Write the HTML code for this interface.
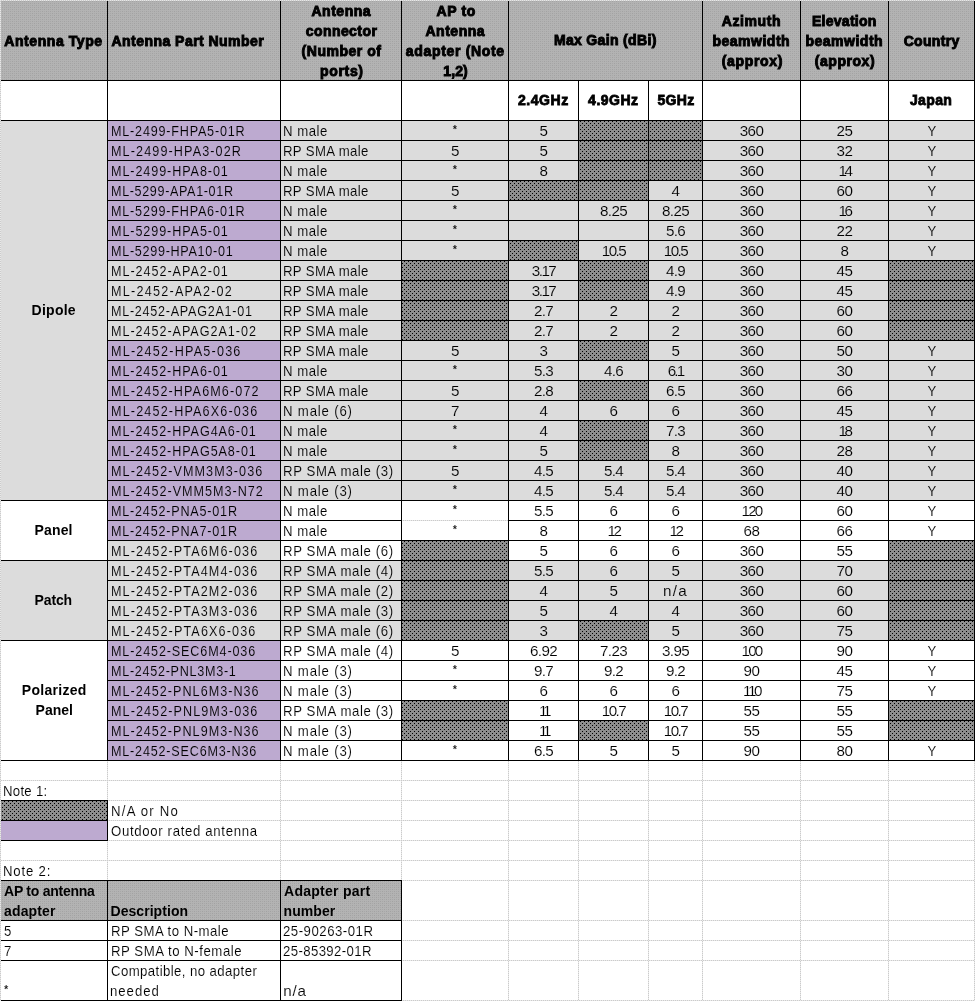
<!DOCTYPE html>
<html><head><meta charset="utf-8"><title>Antenna table</title>
<style>
html,body{margin:0;padding:0;background:#fff;}
body{width:975px;height:1001px;overflow:hidden;position:relative;font-family:"Liberation Sans",sans-serif;color:#000;}
#g{position:absolute;left:0;top:0;display:block;}
#tx{position:absolute;left:0;top:0;width:975px;height:1001px;will-change:transform;}
.t{position:absolute;display:flex;box-sizing:border-box;white-space:nowrap;overflow:visible;font-size:12.5px;line-height:20px;}
.t span{display:block;transform-origin:left center;}
.t.c span{transform-origin:center center;}
.r{font-size:14.67px;letter-spacing:0px;}
.r span{transform:scaleX(0.9);}
.n{font-size:15.2px;}
.pn{font-size:14.67px;letter-spacing:0px;}
.pn span{transform:scaleX(0.86);}
.hb{font-weight:bold;font-size:14px;letter-spacing:0.6px;-webkit-text-stroke:0.95px #000;}
.sb{font-weight:bold;font-size:14px;letter-spacing:0.2px;-webkit-text-stroke:0.8px #000;}
.gb{font-weight:bold;font-size:14px;letter-spacing:0.3px;}
.nb{font-weight:bold;font-size:14px;letter-spacing:0.2px;}
.star span{position:relative;top:-2px;font-size:11px;font-weight:bold;transform:none;}
</style></head><body>
<svg id="g" width="975" height="1001" viewBox="0 0 975 1001" shape-rendering="crispEdges">
<defs>
<pattern id="na" x="0" y="0" width="4" height="4" patternUnits="userSpaceOnUse">
<rect width="4" height="4" fill="#8e8e8e"/>
<rect x="2" y="3" width="1" height="1" fill="#000"/>
<rect x="0" y="1" width="1" height="1" fill="#000"/>
</pattern>
<pattern id="gl" x="0" y="0" width="2" height="2" patternUnits="userSpaceOnUse">
<rect width="2" height="2" fill="#e8e8e8"/>
<rect x="1" y="0" width="1" height="1" fill="#cbcbcb"/>
<rect x="0" y="1" width="1" height="1" fill="#cbcbcb"/>
</pattern>
<pattern id="hd" x="0" y="0" width="4" height="4" patternUnits="userSpaceOnUse">
<rect width="4" height="4" fill="#b3b3b3"/>
<rect x="0" y="1" width="1" height="1" fill="#a2a2a2"/>
<rect x="2" y="3" width="1" height="1" fill="#a2a2a2"/>
<rect x="2" y="1" width="1" height="1" fill="#a8a8a8"/>
<rect x="0" y="3" width="1" height="1" fill="#a8a8a8"/>
</pattern>
</defs>
<rect x="1" y="1" width="973" height="79" fill="url(#hd)"/>
<rect x="1" y="121" width="106" height="379" fill="#dcdcdc"/>
<rect x="1" y="561" width="106" height="79" fill="#dcdcdc"/>
<rect x="108" y="121" width="172" height="19" fill="#bdaad0"/>
<rect x="281" y="121" width="120" height="19" fill="#dcdcdc"/>
<rect x="402" y="121" width="106" height="19" fill="#dcdcdc"/>
<rect x="509" y="121" width="69" height="19" fill="#dcdcdc"/>
<rect x="579" y="121" width="69" height="19" fill="url(#na)"/>
<rect x="649" y="121" width="53" height="19" fill="url(#na)"/>
<rect x="703" y="121" width="97" height="19" fill="#dcdcdc"/>
<rect x="801" y="121" width="87" height="19" fill="#dcdcdc"/>
<rect x="889" y="121" width="85" height="19" fill="#dcdcdc"/>
<rect x="108" y="141" width="172" height="19" fill="#bdaad0"/>
<rect x="281" y="141" width="120" height="19" fill="#dcdcdc"/>
<rect x="402" y="141" width="106" height="19" fill="#dcdcdc"/>
<rect x="509" y="141" width="69" height="19" fill="#dcdcdc"/>
<rect x="579" y="141" width="69" height="19" fill="url(#na)"/>
<rect x="649" y="141" width="53" height="19" fill="url(#na)"/>
<rect x="703" y="141" width="97" height="19" fill="#dcdcdc"/>
<rect x="801" y="141" width="87" height="19" fill="#dcdcdc"/>
<rect x="889" y="141" width="85" height="19" fill="#dcdcdc"/>
<rect x="108" y="161" width="172" height="19" fill="#bdaad0"/>
<rect x="281" y="161" width="120" height="19" fill="#dcdcdc"/>
<rect x="402" y="161" width="106" height="19" fill="#dcdcdc"/>
<rect x="509" y="161" width="69" height="19" fill="#dcdcdc"/>
<rect x="579" y="161" width="69" height="19" fill="url(#na)"/>
<rect x="649" y="161" width="53" height="19" fill="url(#na)"/>
<rect x="703" y="161" width="97" height="19" fill="#dcdcdc"/>
<rect x="801" y="161" width="87" height="19" fill="#dcdcdc"/>
<rect x="889" y="161" width="85" height="19" fill="#dcdcdc"/>
<rect x="108" y="181" width="172" height="19" fill="#bdaad0"/>
<rect x="281" y="181" width="120" height="19" fill="#dcdcdc"/>
<rect x="402" y="181" width="106" height="19" fill="#dcdcdc"/>
<rect x="509" y="181" width="69" height="19" fill="url(#na)"/>
<rect x="579" y="181" width="69" height="19" fill="url(#na)"/>
<rect x="649" y="181" width="53" height="19" fill="#dcdcdc"/>
<rect x="703" y="181" width="97" height="19" fill="#dcdcdc"/>
<rect x="801" y="181" width="87" height="19" fill="#dcdcdc"/>
<rect x="889" y="181" width="85" height="19" fill="#dcdcdc"/>
<rect x="108" y="201" width="172" height="19" fill="#bdaad0"/>
<rect x="281" y="201" width="120" height="19" fill="#dcdcdc"/>
<rect x="402" y="201" width="106" height="19" fill="#dcdcdc"/>
<rect x="509" y="201" width="69" height="19" fill="#dcdcdc"/>
<rect x="579" y="201" width="69" height="19" fill="#dcdcdc"/>
<rect x="649" y="201" width="53" height="19" fill="#dcdcdc"/>
<rect x="703" y="201" width="97" height="19" fill="#dcdcdc"/>
<rect x="801" y="201" width="87" height="19" fill="#dcdcdc"/>
<rect x="889" y="201" width="85" height="19" fill="#dcdcdc"/>
<rect x="108" y="221" width="172" height="19" fill="#bdaad0"/>
<rect x="281" y="221" width="120" height="19" fill="#dcdcdc"/>
<rect x="402" y="221" width="106" height="19" fill="#dcdcdc"/>
<rect x="509" y="221" width="69" height="19" fill="#dcdcdc"/>
<rect x="579" y="221" width="69" height="19" fill="#dcdcdc"/>
<rect x="649" y="221" width="53" height="19" fill="#dcdcdc"/>
<rect x="703" y="221" width="97" height="19" fill="#dcdcdc"/>
<rect x="801" y="221" width="87" height="19" fill="#dcdcdc"/>
<rect x="889" y="221" width="85" height="19" fill="#dcdcdc"/>
<rect x="108" y="241" width="172" height="19" fill="#bdaad0"/>
<rect x="281" y="241" width="120" height="19" fill="#dcdcdc"/>
<rect x="402" y="241" width="106" height="19" fill="#dcdcdc"/>
<rect x="509" y="241" width="69" height="19" fill="url(#na)"/>
<rect x="579" y="241" width="69" height="19" fill="#dcdcdc"/>
<rect x="649" y="241" width="53" height="19" fill="#dcdcdc"/>
<rect x="703" y="241" width="97" height="19" fill="#dcdcdc"/>
<rect x="801" y="241" width="87" height="19" fill="#dcdcdc"/>
<rect x="889" y="241" width="85" height="19" fill="#dcdcdc"/>
<rect x="108" y="261" width="172" height="19" fill="#dcdcdc"/>
<rect x="281" y="261" width="120" height="19" fill="#dcdcdc"/>
<rect x="402" y="261" width="106" height="19" fill="url(#na)"/>
<rect x="509" y="261" width="69" height="19" fill="#dcdcdc"/>
<rect x="579" y="261" width="69" height="19" fill="url(#na)"/>
<rect x="649" y="261" width="53" height="19" fill="#dcdcdc"/>
<rect x="703" y="261" width="97" height="19" fill="#dcdcdc"/>
<rect x="801" y="261" width="87" height="19" fill="#dcdcdc"/>
<rect x="889" y="261" width="85" height="19" fill="url(#na)"/>
<rect x="108" y="281" width="172" height="19" fill="#dcdcdc"/>
<rect x="281" y="281" width="120" height="19" fill="#dcdcdc"/>
<rect x="402" y="281" width="106" height="19" fill="url(#na)"/>
<rect x="509" y="281" width="69" height="19" fill="#dcdcdc"/>
<rect x="579" y="281" width="69" height="19" fill="url(#na)"/>
<rect x="649" y="281" width="53" height="19" fill="#dcdcdc"/>
<rect x="703" y="281" width="97" height="19" fill="#dcdcdc"/>
<rect x="801" y="281" width="87" height="19" fill="#dcdcdc"/>
<rect x="889" y="281" width="85" height="19" fill="url(#na)"/>
<rect x="108" y="301" width="172" height="19" fill="#dcdcdc"/>
<rect x="281" y="301" width="120" height="19" fill="#dcdcdc"/>
<rect x="402" y="301" width="106" height="19" fill="url(#na)"/>
<rect x="509" y="301" width="69" height="19" fill="#dcdcdc"/>
<rect x="579" y="301" width="69" height="19" fill="#dcdcdc"/>
<rect x="649" y="301" width="53" height="19" fill="#dcdcdc"/>
<rect x="703" y="301" width="97" height="19" fill="#dcdcdc"/>
<rect x="801" y="301" width="87" height="19" fill="#dcdcdc"/>
<rect x="889" y="301" width="85" height="19" fill="url(#na)"/>
<rect x="108" y="321" width="172" height="19" fill="#dcdcdc"/>
<rect x="281" y="321" width="120" height="19" fill="#dcdcdc"/>
<rect x="402" y="321" width="106" height="19" fill="url(#na)"/>
<rect x="509" y="321" width="69" height="19" fill="#dcdcdc"/>
<rect x="579" y="321" width="69" height="19" fill="#dcdcdc"/>
<rect x="649" y="321" width="53" height="19" fill="#dcdcdc"/>
<rect x="703" y="321" width="97" height="19" fill="#dcdcdc"/>
<rect x="801" y="321" width="87" height="19" fill="#dcdcdc"/>
<rect x="889" y="321" width="85" height="19" fill="url(#na)"/>
<rect x="108" y="341" width="172" height="19" fill="#bdaad0"/>
<rect x="281" y="341" width="120" height="19" fill="#dcdcdc"/>
<rect x="402" y="341" width="106" height="19" fill="#dcdcdc"/>
<rect x="509" y="341" width="69" height="19" fill="#dcdcdc"/>
<rect x="579" y="341" width="69" height="19" fill="url(#na)"/>
<rect x="649" y="341" width="53" height="19" fill="#dcdcdc"/>
<rect x="703" y="341" width="97" height="19" fill="#dcdcdc"/>
<rect x="801" y="341" width="87" height="19" fill="#dcdcdc"/>
<rect x="889" y="341" width="85" height="19" fill="#dcdcdc"/>
<rect x="108" y="361" width="172" height="19" fill="#bdaad0"/>
<rect x="281" y="361" width="120" height="19" fill="#dcdcdc"/>
<rect x="402" y="361" width="106" height="19" fill="#dcdcdc"/>
<rect x="509" y="361" width="69" height="19" fill="#dcdcdc"/>
<rect x="579" y="361" width="69" height="19" fill="#dcdcdc"/>
<rect x="649" y="361" width="53" height="19" fill="#dcdcdc"/>
<rect x="703" y="361" width="97" height="19" fill="#dcdcdc"/>
<rect x="801" y="361" width="87" height="19" fill="#dcdcdc"/>
<rect x="889" y="361" width="85" height="19" fill="#dcdcdc"/>
<rect x="108" y="381" width="172" height="19" fill="#bdaad0"/>
<rect x="281" y="381" width="120" height="19" fill="#dcdcdc"/>
<rect x="402" y="381" width="106" height="19" fill="#dcdcdc"/>
<rect x="509" y="381" width="69" height="19" fill="#dcdcdc"/>
<rect x="579" y="381" width="69" height="19" fill="url(#na)"/>
<rect x="649" y="381" width="53" height="19" fill="#dcdcdc"/>
<rect x="703" y="381" width="97" height="19" fill="#dcdcdc"/>
<rect x="801" y="381" width="87" height="19" fill="#dcdcdc"/>
<rect x="889" y="381" width="85" height="19" fill="#dcdcdc"/>
<rect x="108" y="401" width="172" height="19" fill="#bdaad0"/>
<rect x="281" y="401" width="120" height="19" fill="#dcdcdc"/>
<rect x="402" y="401" width="106" height="19" fill="#dcdcdc"/>
<rect x="509" y="401" width="69" height="19" fill="#dcdcdc"/>
<rect x="579" y="401" width="69" height="19" fill="#dcdcdc"/>
<rect x="649" y="401" width="53" height="19" fill="#dcdcdc"/>
<rect x="703" y="401" width="97" height="19" fill="#dcdcdc"/>
<rect x="801" y="401" width="87" height="19" fill="#dcdcdc"/>
<rect x="889" y="401" width="85" height="19" fill="#dcdcdc"/>
<rect x="108" y="421" width="172" height="19" fill="#bdaad0"/>
<rect x="281" y="421" width="120" height="19" fill="#dcdcdc"/>
<rect x="402" y="421" width="106" height="19" fill="#dcdcdc"/>
<rect x="509" y="421" width="69" height="19" fill="#dcdcdc"/>
<rect x="579" y="421" width="69" height="19" fill="url(#na)"/>
<rect x="649" y="421" width="53" height="19" fill="#dcdcdc"/>
<rect x="703" y="421" width="97" height="19" fill="#dcdcdc"/>
<rect x="801" y="421" width="87" height="19" fill="#dcdcdc"/>
<rect x="889" y="421" width="85" height="19" fill="#dcdcdc"/>
<rect x="108" y="441" width="172" height="19" fill="#bdaad0"/>
<rect x="281" y="441" width="120" height="19" fill="#dcdcdc"/>
<rect x="402" y="441" width="106" height="19" fill="#dcdcdc"/>
<rect x="509" y="441" width="69" height="19" fill="#dcdcdc"/>
<rect x="579" y="441" width="69" height="19" fill="url(#na)"/>
<rect x="649" y="441" width="53" height="19" fill="#dcdcdc"/>
<rect x="703" y="441" width="97" height="19" fill="#dcdcdc"/>
<rect x="801" y="441" width="87" height="19" fill="#dcdcdc"/>
<rect x="889" y="441" width="85" height="19" fill="#dcdcdc"/>
<rect x="108" y="461" width="172" height="19" fill="#bdaad0"/>
<rect x="281" y="461" width="120" height="19" fill="#dcdcdc"/>
<rect x="402" y="461" width="106" height="19" fill="#dcdcdc"/>
<rect x="509" y="461" width="69" height="19" fill="#dcdcdc"/>
<rect x="579" y="461" width="69" height="19" fill="#dcdcdc"/>
<rect x="649" y="461" width="53" height="19" fill="#dcdcdc"/>
<rect x="703" y="461" width="97" height="19" fill="#dcdcdc"/>
<rect x="801" y="461" width="87" height="19" fill="#dcdcdc"/>
<rect x="889" y="461" width="85" height="19" fill="#dcdcdc"/>
<rect x="108" y="481" width="172" height="19" fill="#bdaad0"/>
<rect x="281" y="481" width="120" height="19" fill="#dcdcdc"/>
<rect x="402" y="481" width="106" height="19" fill="#dcdcdc"/>
<rect x="509" y="481" width="69" height="19" fill="#dcdcdc"/>
<rect x="579" y="481" width="69" height="19" fill="#dcdcdc"/>
<rect x="649" y="481" width="53" height="19" fill="#dcdcdc"/>
<rect x="703" y="481" width="97" height="19" fill="#dcdcdc"/>
<rect x="801" y="481" width="87" height="19" fill="#dcdcdc"/>
<rect x="889" y="481" width="85" height="19" fill="#dcdcdc"/>
<rect x="108" y="501" width="172" height="19" fill="#bdaad0"/>
<rect x="108" y="521" width="172" height="19" fill="#bdaad0"/>
<rect x="108" y="541" width="172" height="19" fill="#dcdcdc"/>
<rect x="402" y="541" width="106" height="19" fill="url(#na)"/>
<rect x="889" y="541" width="85" height="19" fill="url(#na)"/>
<rect x="108" y="561" width="172" height="19" fill="#dcdcdc"/>
<rect x="281" y="561" width="120" height="19" fill="#dcdcdc"/>
<rect x="402" y="561" width="106" height="19" fill="url(#na)"/>
<rect x="509" y="561" width="69" height="19" fill="#dcdcdc"/>
<rect x="579" y="561" width="69" height="19" fill="#dcdcdc"/>
<rect x="649" y="561" width="53" height="19" fill="#dcdcdc"/>
<rect x="703" y="561" width="97" height="19" fill="#dcdcdc"/>
<rect x="801" y="561" width="87" height="19" fill="#dcdcdc"/>
<rect x="889" y="561" width="85" height="19" fill="url(#na)"/>
<rect x="108" y="581" width="172" height="19" fill="#dcdcdc"/>
<rect x="281" y="581" width="120" height="19" fill="#dcdcdc"/>
<rect x="402" y="581" width="106" height="19" fill="url(#na)"/>
<rect x="509" y="581" width="69" height="19" fill="#dcdcdc"/>
<rect x="579" y="581" width="69" height="19" fill="#dcdcdc"/>
<rect x="649" y="581" width="53" height="19" fill="#dcdcdc"/>
<rect x="703" y="581" width="97" height="19" fill="#dcdcdc"/>
<rect x="801" y="581" width="87" height="19" fill="#dcdcdc"/>
<rect x="889" y="581" width="85" height="19" fill="url(#na)"/>
<rect x="108" y="601" width="172" height="19" fill="#dcdcdc"/>
<rect x="281" y="601" width="120" height="19" fill="#dcdcdc"/>
<rect x="402" y="601" width="106" height="19" fill="url(#na)"/>
<rect x="509" y="601" width="69" height="19" fill="#dcdcdc"/>
<rect x="579" y="601" width="69" height="19" fill="#dcdcdc"/>
<rect x="649" y="601" width="53" height="19" fill="#dcdcdc"/>
<rect x="703" y="601" width="97" height="19" fill="#dcdcdc"/>
<rect x="801" y="601" width="87" height="19" fill="#dcdcdc"/>
<rect x="889" y="601" width="85" height="19" fill="url(#na)"/>
<rect x="108" y="621" width="172" height="19" fill="#dcdcdc"/>
<rect x="281" y="621" width="120" height="19" fill="#dcdcdc"/>
<rect x="402" y="621" width="106" height="19" fill="url(#na)"/>
<rect x="509" y="621" width="69" height="19" fill="#dcdcdc"/>
<rect x="579" y="621" width="69" height="19" fill="url(#na)"/>
<rect x="649" y="621" width="53" height="19" fill="#dcdcdc"/>
<rect x="703" y="621" width="97" height="19" fill="#dcdcdc"/>
<rect x="801" y="621" width="87" height="19" fill="#dcdcdc"/>
<rect x="889" y="621" width="85" height="19" fill="url(#na)"/>
<rect x="108" y="641" width="172" height="19" fill="#bdaad0"/>
<rect x="108" y="661" width="172" height="19" fill="#bdaad0"/>
<rect x="108" y="681" width="172" height="19" fill="#bdaad0"/>
<rect x="108" y="701" width="172" height="19" fill="#bdaad0"/>
<rect x="402" y="701" width="106" height="19" fill="url(#na)"/>
<rect x="889" y="701" width="85" height="19" fill="url(#na)"/>
<rect x="108" y="721" width="172" height="19" fill="#bdaad0"/>
<rect x="402" y="721" width="106" height="19" fill="url(#na)"/>
<rect x="579" y="721" width="69" height="19" fill="url(#na)"/>
<rect x="889" y="721" width="85" height="19" fill="url(#na)"/>
<rect x="108" y="741" width="172" height="19" fill="#bdaad0"/>
<rect x="1" y="801" width="106" height="19" fill="url(#na)"/>
<rect x="1" y="821" width="106" height="19" fill="#bdaad0"/>
<rect x="1" y="881" width="400" height="39" fill="url(#hd)"/>
<rect x="0" y="0" width="1" height="1001" fill="url(#gl)"/>
<rect x="0" y="0" width="975" height="1" fill="url(#gl)"/>
<rect x="107" y="761" width="1" height="240" fill="url(#gl)"/>
<rect x="280" y="761" width="1" height="240" fill="url(#gl)"/>
<rect x="401" y="761" width="1" height="240" fill="url(#gl)"/>
<rect x="508" y="761" width="1" height="240" fill="url(#gl)"/>
<rect x="578" y="761" width="1" height="240" fill="url(#gl)"/>
<rect x="648" y="761" width="1" height="240" fill="url(#gl)"/>
<rect x="702" y="761" width="1" height="240" fill="url(#gl)"/>
<rect x="800" y="761" width="1" height="240" fill="url(#gl)"/>
<rect x="888" y="761" width="1" height="240" fill="url(#gl)"/>
<rect x="974" y="761" width="1" height="240" fill="url(#gl)"/>
<rect x="0" y="780" width="975" height="1" fill="url(#gl)"/>
<rect x="0" y="800" width="975" height="1" fill="url(#gl)"/>
<rect x="0" y="820" width="975" height="1" fill="url(#gl)"/>
<rect x="0" y="840" width="975" height="1" fill="url(#gl)"/>
<rect x="0" y="860" width="975" height="1" fill="url(#gl)"/>
<rect x="0" y="880" width="975" height="1" fill="url(#gl)"/>
<rect x="0" y="920" width="975" height="1" fill="url(#gl)"/>
<rect x="0" y="940" width="975" height="1" fill="url(#gl)"/>
<rect x="0" y="960" width="975" height="1" fill="url(#gl)"/>
<rect x="0" y="1000" width="975" height="1" fill="url(#gl)"/>
<rect x="107" y="1" width="1" height="760" fill="#000000"/>
<rect x="280" y="1" width="1" height="760" fill="#000000"/>
<rect x="401" y="1" width="1" height="760" fill="#000000"/>
<rect x="508" y="1" width="1" height="760" fill="#000000"/>
<rect x="578" y="80" width="1" height="681" fill="#000000"/>
<rect x="648" y="80" width="1" height="681" fill="#000000"/>
<rect x="702" y="1" width="1" height="760" fill="#000000"/>
<rect x="800" y="1" width="1" height="760" fill="#000000"/>
<rect x="888" y="1" width="1" height="760" fill="#000000"/>
<rect x="974" y="1" width="1" height="760" fill="#000000"/>
<rect x="1" y="80" width="974" height="1" fill="#000000"/>
<rect x="1" y="120" width="974" height="1" fill="#000000"/>
<rect x="107" y="140" width="868" height="1" fill="#000000"/>
<rect x="107" y="160" width="868" height="1" fill="#000000"/>
<rect x="107" y="180" width="868" height="1" fill="#000000"/>
<rect x="107" y="200" width="868" height="1" fill="#000000"/>
<rect x="107" y="220" width="868" height="1" fill="#000000"/>
<rect x="107" y="240" width="868" height="1" fill="#000000"/>
<rect x="107" y="260" width="868" height="1" fill="#000000"/>
<rect x="107" y="280" width="868" height="1" fill="#000000"/>
<rect x="107" y="300" width="868" height="1" fill="#000000"/>
<rect x="107" y="320" width="868" height="1" fill="#000000"/>
<rect x="107" y="340" width="868" height="1" fill="#000000"/>
<rect x="107" y="360" width="868" height="1" fill="#000000"/>
<rect x="107" y="380" width="868" height="1" fill="#000000"/>
<rect x="107" y="400" width="868" height="1" fill="#000000"/>
<rect x="107" y="420" width="868" height="1" fill="#000000"/>
<rect x="107" y="440" width="868" height="1" fill="#000000"/>
<rect x="107" y="460" width="868" height="1" fill="#000000"/>
<rect x="107" y="480" width="868" height="1" fill="#000000"/>
<rect x="107" y="500" width="868" height="1" fill="#000000"/>
<rect x="107" y="520" width="295" height="1" fill="#000000"/>
<rect x="402" y="520" width="106" height="1" fill="url(#gl)"/>
<rect x="508" y="520" width="467" height="1" fill="#000000"/>
<rect x="107" y="540" width="868" height="1" fill="#000000"/>
<rect x="107" y="560" width="868" height="1" fill="#000000"/>
<rect x="107" y="580" width="868" height="1" fill="#000000"/>
<rect x="107" y="600" width="868" height="1" fill="#000000"/>
<rect x="107" y="620" width="868" height="1" fill="#000000"/>
<rect x="107" y="640" width="868" height="1" fill="#000000"/>
<rect x="107" y="660" width="868" height="1" fill="#000000"/>
<rect x="107" y="680" width="868" height="1" fill="#000000"/>
<rect x="107" y="700" width="868" height="1" fill="#000000"/>
<rect x="107" y="720" width="868" height="1" fill="#000000"/>
<rect x="107" y="740" width="868" height="1" fill="#000000"/>
<rect x="107" y="760" width="868" height="1" fill="#000000"/>
<rect x="1" y="500" width="974" height="1" fill="#000000"/>
<rect x="1" y="560" width="974" height="1" fill="#000000"/>
<rect x="1" y="640" width="974" height="1" fill="#000000"/>
<rect x="1" y="760" width="974" height="1" fill="#000000"/>
<rect x="1" y="800" width="107" height="1" fill="#000000"/>
<rect x="1" y="820" width="107" height="1" fill="#000000"/>
<rect x="1" y="840" width="107" height="1" fill="#000000"/>
<rect x="107" y="800" width="1" height="41" fill="#000000"/>
<rect x="1" y="880" width="401" height="1" fill="#000000"/>
<rect x="1" y="920" width="401" height="1" fill="#000000"/>
<rect x="1" y="940" width="401" height="1" fill="#000000"/>
<rect x="1" y="960" width="401" height="1" fill="#000000"/>
<rect x="1" y="1000" width="401" height="1" fill="#000000"/>
<rect x="107" y="880" width="1" height="121" fill="#000000"/>
<rect x="280" y="880" width="1" height="121" fill="#000000"/>
<rect x="401" y="880" width="1" height="121" fill="#000000"/>
</svg>
<div id="tx">
<div class="t hb" style="left:4.29px;top:31px;width:103.0px;height:20px;justify-content:flex-start;align-items:center;text-align:left;letter-spacing:0.574px;"><span>Antenna Type</span></div>
<div class="t hb" style="left:111.51px;top:31px;width:169.0px;height:20px;justify-content:flex-start;align-items:center;text-align:left;letter-spacing:0.462px;"><span>Antenna Part Number</span></div>
<div class="t hb c" style="left:281.32px;top:1px;width:120.0px;height:20px;justify-content:center;align-items:center;text-align:center;letter-spacing:0.521px;"><span>Antenna</span></div>
<div class="t hb c" style="left:281.51px;top:21px;width:120.0px;height:20px;justify-content:center;align-items:center;text-align:center;letter-spacing:0.433px;"><span>connector</span></div>
<div class="t hb c" style="left:281.52px;top:41px;width:120.0px;height:20px;justify-content:center;align-items:center;text-align:center;letter-spacing:0.521px;"><span>(Number of</span></div>
<div class="t hb c" style="left:281.87px;top:61px;width:120.0px;height:20px;justify-content:center;align-items:center;text-align:center;letter-spacing:0.647px;"><span>ports)</span></div>
<div class="t hb c" style="left:403.17px;top:1px;width:106.0px;height:20px;justify-content:center;align-items:center;text-align:center;letter-spacing:0.633px;"><span>AP to</span></div>
<div class="t hb c" style="left:402.32px;top:21px;width:106.0px;height:20px;justify-content:center;align-items:center;text-align:center;letter-spacing:0.525px;"><span>Antenna</span></div>
<div class="t hb c" style="left:402.35px;top:41px;width:106.0px;height:20px;justify-content:center;align-items:center;text-align:center;letter-spacing:0.671px;"><span>adapter (Note</span></div>
<div class="t hb c" style="left:402.6px;top:61px;width:106.0px;height:20px;justify-content:center;align-items:center;text-align:center;letter-spacing:0.121px;"><span>1,2)</span></div>
<div class="t hb c" style="left:508.77px;top:30px;width:193.0px;height:20px;justify-content:center;align-items:center;text-align:center;letter-spacing:0.338px;"><span>Max Gain (dBi)</span></div>
<div class="t hb c" style="left:702.92px;top:11px;width:97.0px;height:20px;justify-content:center;align-items:center;text-align:center;letter-spacing:0.588px;"><span>Azimuth</span></div>
<div class="t hb c" style="left:702.81px;top:31px;width:97.0px;height:20px;justify-content:center;align-items:center;text-align:center;letter-spacing:0.496px;"><span>beamwidth</span></div>
<div class="t hb c" style="left:703.85px;top:51px;width:97.0px;height:20px;justify-content:center;align-items:center;text-align:center;letter-spacing:0.670px;"><span>(approx)</span></div>
<div class="t hb c" style="left:800.82px;top:11px;width:87.0px;height:20px;justify-content:center;align-items:center;text-align:center;letter-spacing:0.276px;"><span>Elevation</span></div>
<div class="t hb c" style="left:800.82px;top:31px;width:87.0px;height:20px;justify-content:center;align-items:center;text-align:center;letter-spacing:0.516px;"><span>beamwidth</span></div>
<div class="t hb c" style="left:801.46px;top:51px;width:87.0px;height:20px;justify-content:center;align-items:center;text-align:center;letter-spacing:0.563px;"><span>(approx)</span></div>
<div class="t hb c" style="left:889.11px;top:31px;width:85.0px;height:20px;justify-content:center;align-items:center;text-align:center;letter-spacing:0.304px;"><span>Country</span></div>
<div class="t sb c" style="left:508.82px;top:80px;width:69.00000000000006px;height:40px;justify-content:center;align-items:center;text-align:center;letter-spacing:0.565px;"><span>2.4GHz</span></div>
<div class="t sb c" style="left:578.87px;top:80px;width:69.0px;height:40px;justify-content:center;align-items:center;text-align:center;letter-spacing:0.515px;"><span>4.9GHz</span></div>
<div class="t sb c" style="left:649.55px;top:80px;width:53.0px;height:40px;justify-content:center;align-items:center;text-align:center;letter-spacing:0.380px;"><span>5GHz</span></div>
<div class="t sb c" style="left:888.61px;top:80px;width:85.0px;height:40px;justify-content:center;align-items:center;text-align:center;letter-spacing:0.358px;"><span>Japan</span></div>
<div class="t gb c" style="left:0.74px;top:300.0px;width:106.0px;height:20.0px;justify-content:center;align-items:center;text-align:center;letter-spacing:0.260px;"><span>Dipole</span></div>
<div class="t gb c" style="left:0.5800000000000001px;top:520.0px;width:106.0px;height:20.0px;justify-content:center;align-items:center;text-align:center;letter-spacing:0.161px;"><span>Panel</span></div>
<div class="t gb c" style="left:0.30000000000000004px;top:590.0px;width:106.0px;height:20.0px;justify-content:center;align-items:center;text-align:center;letter-spacing:-0.133px;"><span>Patch</span></div>
<div class="t gb c" style="left:1.21px;top:680.0px;width:106.0px;height:20.0px;justify-content:center;align-items:center;text-align:center;letter-spacing:0.292px;"><span>Polarized</span></div>
<div class="t gb c" style="left:1.29px;top:700.0px;width:106.0px;height:20.0px;justify-content:center;align-items:center;text-align:center;letter-spacing:0.040px;"><span>Panel</span></div>
<div class="t pn" style="left:110.88px;top:121px;width:168.0px;height:19px;justify-content:flex-start;align-items:center;text-align:left;letter-spacing:0.919px;-webkit-text-stroke:0.12px #bdaad0;"><span>ML-2499-FHPA5-01R</span></div>
<div class="t r" style="left:283.08px;top:121px;width:116.0px;height:19px;justify-content:flex-start;align-items:center;text-align:left;letter-spacing:0.557px;-webkit-text-stroke:0.12px #dcdcdc;"><span>N male</span></div>
<div class="t r star c" style="left:402px;top:121px;width:106px;height:19px;justify-content:center;align-items:center;text-align:center;-webkit-text-stroke:0.12px #dcdcdc;"><span>*</span></div>
<div class="t n c" style="left:509px;top:121px;width:69px;height:19px;justify-content:center;align-items:center;text-align:center;letter-spacing:-0.55px;-webkit-text-stroke:0.12px #dcdcdc;"><span>5</span></div>
<div class="t n c" style="left:703px;top:121px;width:97px;height:19px;justify-content:center;align-items:center;text-align:center;letter-spacing:-0.55px;-webkit-text-stroke:0.12px #dcdcdc;"><span>360</span></div>
<div class="t n c" style="left:801px;top:121px;width:87px;height:19px;justify-content:center;align-items:center;text-align:center;letter-spacing:-0.55px;-webkit-text-stroke:0.12px #dcdcdc;"><span>25</span></div>
<div class="t r c" style="left:889px;top:121px;width:85px;height:19px;justify-content:center;align-items:center;text-align:center;-webkit-text-stroke:0.12px #dcdcdc;"><span>Y</span></div>
<div class="t pn" style="left:110.88px;top:141px;width:168.0px;height:19px;justify-content:flex-start;align-items:center;text-align:left;letter-spacing:1.296px;-webkit-text-stroke:0.12px #bdaad0;"><span>ML-2499-HPA3-02R</span></div>
<div class="t r" style="left:283.08px;top:141px;width:116.0px;height:19px;justify-content:flex-start;align-items:center;text-align:left;letter-spacing:0.385px;-webkit-text-stroke:0.12px #dcdcdc;"><span>RP SMA male</span></div>
<div class="t n c" style="left:402px;top:141px;width:106px;height:19px;justify-content:center;align-items:center;text-align:center;letter-spacing:-0.55px;-webkit-text-stroke:0.12px #dcdcdc;"><span>5</span></div>
<div class="t n c" style="left:509px;top:141px;width:69px;height:19px;justify-content:center;align-items:center;text-align:center;letter-spacing:-0.55px;-webkit-text-stroke:0.12px #dcdcdc;"><span>5</span></div>
<div class="t n c" style="left:703px;top:141px;width:97px;height:19px;justify-content:center;align-items:center;text-align:center;letter-spacing:-0.55px;-webkit-text-stroke:0.12px #dcdcdc;"><span>360</span></div>
<div class="t n c" style="left:801px;top:141px;width:87px;height:19px;justify-content:center;align-items:center;text-align:center;letter-spacing:-0.55px;-webkit-text-stroke:0.12px #dcdcdc;"><span>32</span></div>
<div class="t r c" style="left:889px;top:141px;width:85px;height:19px;justify-content:center;align-items:center;text-align:center;-webkit-text-stroke:0.12px #dcdcdc;"><span>Y</span></div>
<div class="t pn" style="left:110.88px;top:161px;width:168.0px;height:19px;justify-content:flex-start;align-items:center;text-align:left;letter-spacing:1.056px;-webkit-text-stroke:0.12px #bdaad0;"><span>ML-2499-HPA8-01</span></div>
<div class="t r" style="left:283.08px;top:161px;width:116.0px;height:19px;justify-content:flex-start;align-items:center;text-align:left;letter-spacing:0.557px;-webkit-text-stroke:0.12px #dcdcdc;"><span>N male</span></div>
<div class="t r star c" style="left:402px;top:161px;width:106px;height:19px;justify-content:center;align-items:center;text-align:center;-webkit-text-stroke:0.12px #dcdcdc;"><span>*</span></div>
<div class="t n c" style="left:509px;top:161px;width:69px;height:19px;justify-content:center;align-items:center;text-align:center;letter-spacing:-0.55px;-webkit-text-stroke:0.12px #dcdcdc;"><span>8</span></div>
<div class="t n c" style="left:703px;top:161px;width:97px;height:19px;justify-content:center;align-items:center;text-align:center;letter-spacing:-0.55px;-webkit-text-stroke:0.12px #dcdcdc;"><span>360</span></div>
<div class="t n c" style="left:801px;top:161px;width:87px;height:19px;justify-content:center;align-items:center;text-align:center;letter-spacing:-2.35px;-webkit-text-stroke:0.12px #dcdcdc;"><span>14</span></div>
<div class="t r c" style="left:889px;top:161px;width:85px;height:19px;justify-content:center;align-items:center;text-align:center;-webkit-text-stroke:0.12px #dcdcdc;"><span>Y</span></div>
<div class="t pn" style="left:110.88px;top:181px;width:168.0px;height:19px;justify-content:flex-start;align-items:center;text-align:left;letter-spacing:0.731px;-webkit-text-stroke:0.12px #bdaad0;"><span>ML-5299-APA1-01R</span></div>
<div class="t r" style="left:283.08px;top:181px;width:116.0px;height:19px;justify-content:flex-start;align-items:center;text-align:left;letter-spacing:0.385px;-webkit-text-stroke:0.12px #dcdcdc;"><span>RP SMA male</span></div>
<div class="t n c" style="left:402px;top:181px;width:106px;height:19px;justify-content:center;align-items:center;text-align:center;letter-spacing:-0.55px;-webkit-text-stroke:0.12px #dcdcdc;"><span>5</span></div>
<div class="t n c" style="left:649px;top:181px;width:53px;height:19px;justify-content:center;align-items:center;text-align:center;letter-spacing:-0.55px;-webkit-text-stroke:0.12px #dcdcdc;"><span>4</span></div>
<div class="t n c" style="left:703px;top:181px;width:97px;height:19px;justify-content:center;align-items:center;text-align:center;letter-spacing:-0.55px;-webkit-text-stroke:0.12px #dcdcdc;"><span>360</span></div>
<div class="t n c" style="left:801px;top:181px;width:87px;height:19px;justify-content:center;align-items:center;text-align:center;letter-spacing:-0.55px;-webkit-text-stroke:0.12px #dcdcdc;"><span>60</span></div>
<div class="t r c" style="left:889px;top:181px;width:85px;height:19px;justify-content:center;align-items:center;text-align:center;-webkit-text-stroke:0.12px #dcdcdc;"><span>Y</span></div>
<div class="t pn" style="left:110.88px;top:201px;width:168.0px;height:19px;justify-content:flex-start;align-items:center;text-align:left;letter-spacing:0.919px;-webkit-text-stroke:0.12px #bdaad0;"><span>ML-5299-FHPA6-01R</span></div>
<div class="t r" style="left:283.08px;top:201px;width:116.0px;height:19px;justify-content:flex-start;align-items:center;text-align:left;letter-spacing:0.557px;-webkit-text-stroke:0.12px #dcdcdc;"><span>N male</span></div>
<div class="t r star c" style="left:402px;top:201px;width:106px;height:19px;justify-content:center;align-items:center;text-align:center;-webkit-text-stroke:0.12px #dcdcdc;"><span>*</span></div>
<div class="t n c" style="left:579px;top:201px;width:69px;height:19px;justify-content:center;align-items:center;text-align:center;letter-spacing:-0.62px;-webkit-text-stroke:0.12px #dcdcdc;"><span>8.25</span></div>
<div class="t n c" style="left:649px;top:201px;width:53px;height:19px;justify-content:center;align-items:center;text-align:center;letter-spacing:-0.62px;-webkit-text-stroke:0.12px #dcdcdc;"><span>8.25</span></div>
<div class="t n c" style="left:703px;top:201px;width:97px;height:19px;justify-content:center;align-items:center;text-align:center;letter-spacing:-0.55px;-webkit-text-stroke:0.12px #dcdcdc;"><span>360</span></div>
<div class="t n c" style="left:801px;top:201px;width:87px;height:19px;justify-content:center;align-items:center;text-align:center;letter-spacing:-2.35px;-webkit-text-stroke:0.12px #dcdcdc;"><span>16</span></div>
<div class="t r c" style="left:889px;top:201px;width:85px;height:19px;justify-content:center;align-items:center;text-align:center;-webkit-text-stroke:0.12px #dcdcdc;"><span>Y</span></div>
<div class="t pn" style="left:110.88px;top:221px;width:168.0px;height:19px;justify-content:flex-start;align-items:center;text-align:left;letter-spacing:1.056px;-webkit-text-stroke:0.12px #bdaad0;"><span>ML-5299-HPA5-01</span></div>
<div class="t r" style="left:283.08px;top:221px;width:116.0px;height:19px;justify-content:flex-start;align-items:center;text-align:left;letter-spacing:0.557px;-webkit-text-stroke:0.12px #dcdcdc;"><span>N male</span></div>
<div class="t r star c" style="left:402px;top:221px;width:106px;height:19px;justify-content:center;align-items:center;text-align:center;-webkit-text-stroke:0.12px #dcdcdc;"><span>*</span></div>
<div class="t n c" style="left:649px;top:221px;width:53px;height:19px;justify-content:center;align-items:center;text-align:center;letter-spacing:-0.64px;-webkit-text-stroke:0.12px #dcdcdc;"><span>5.6</span></div>
<div class="t n c" style="left:703px;top:221px;width:97px;height:19px;justify-content:center;align-items:center;text-align:center;letter-spacing:-0.55px;-webkit-text-stroke:0.12px #dcdcdc;"><span>360</span></div>
<div class="t n c" style="left:801px;top:221px;width:87px;height:19px;justify-content:center;align-items:center;text-align:center;letter-spacing:-0.55px;-webkit-text-stroke:0.12px #dcdcdc;"><span>22</span></div>
<div class="t r c" style="left:889px;top:221px;width:85px;height:19px;justify-content:center;align-items:center;text-align:center;-webkit-text-stroke:0.12px #dcdcdc;"><span>Y</span></div>
<div class="t pn" style="left:110.88px;top:241px;width:168.0px;height:19px;justify-content:flex-start;align-items:center;text-align:left;letter-spacing:0.812px;-webkit-text-stroke:0.12px #bdaad0;"><span>ML-5299-HPA10-01</span></div>
<div class="t r" style="left:283.08px;top:241px;width:116.0px;height:19px;justify-content:flex-start;align-items:center;text-align:left;letter-spacing:0.557px;-webkit-text-stroke:0.12px #dcdcdc;"><span>N male</span></div>
<div class="t r star c" style="left:402px;top:241px;width:106px;height:19px;justify-content:center;align-items:center;text-align:center;-webkit-text-stroke:0.12px #dcdcdc;"><span>*</span></div>
<div class="t n c" style="left:579px;top:241px;width:69px;height:19px;justify-content:center;align-items:center;text-align:center;letter-spacing:-1.52px;-webkit-text-stroke:0.12px #dcdcdc;"><span>10.5</span></div>
<div class="t n c" style="left:649px;top:241px;width:53px;height:19px;justify-content:center;align-items:center;text-align:center;letter-spacing:-1.52px;-webkit-text-stroke:0.12px #dcdcdc;"><span>10.5</span></div>
<div class="t n c" style="left:703px;top:241px;width:97px;height:19px;justify-content:center;align-items:center;text-align:center;letter-spacing:-0.55px;-webkit-text-stroke:0.12px #dcdcdc;"><span>360</span></div>
<div class="t n c" style="left:801px;top:241px;width:87px;height:19px;justify-content:center;align-items:center;text-align:center;letter-spacing:-0.55px;-webkit-text-stroke:0.12px #dcdcdc;"><span>8</span></div>
<div class="t r c" style="left:889px;top:241px;width:85px;height:19px;justify-content:center;align-items:center;text-align:center;-webkit-text-stroke:0.12px #dcdcdc;"><span>Y</span></div>
<div class="t pn" style="left:110.88px;top:261px;width:168.0px;height:19px;justify-content:flex-start;align-items:center;text-align:left;letter-spacing:1.115px;-webkit-text-stroke:0.12px #dcdcdc;"><span>ML-2452-APA2-01</span></div>
<div class="t r" style="left:283.08px;top:261px;width:116.0px;height:19px;justify-content:flex-start;align-items:center;text-align:left;letter-spacing:0.385px;-webkit-text-stroke:0.12px #dcdcdc;"><span>RP SMA male</span></div>
<div class="t n c" style="left:509px;top:261px;width:69px;height:19px;justify-content:center;align-items:center;text-align:center;letter-spacing:-1.52px;-webkit-text-stroke:0.12px #dcdcdc;"><span>3.17</span></div>
<div class="t n c" style="left:649px;top:261px;width:53px;height:19px;justify-content:center;align-items:center;text-align:center;letter-spacing:-0.64px;-webkit-text-stroke:0.12px #dcdcdc;"><span>4.9</span></div>
<div class="t n c" style="left:703px;top:261px;width:97px;height:19px;justify-content:center;align-items:center;text-align:center;letter-spacing:-0.55px;-webkit-text-stroke:0.12px #dcdcdc;"><span>360</span></div>
<div class="t n c" style="left:801px;top:261px;width:87px;height:19px;justify-content:center;align-items:center;text-align:center;letter-spacing:-0.55px;-webkit-text-stroke:0.12px #dcdcdc;"><span>45</span></div>
<div class="t pn" style="left:110.88px;top:281px;width:168.0px;height:19px;justify-content:flex-start;align-items:center;text-align:left;letter-spacing:1.446px;-webkit-text-stroke:0.12px #dcdcdc;"><span>ML-2452-APA2-02</span></div>
<div class="t r" style="left:283.08px;top:281px;width:116.0px;height:19px;justify-content:flex-start;align-items:center;text-align:left;letter-spacing:0.385px;-webkit-text-stroke:0.12px #dcdcdc;"><span>RP SMA male</span></div>
<div class="t n c" style="left:509px;top:281px;width:69px;height:19px;justify-content:center;align-items:center;text-align:center;letter-spacing:-1.52px;-webkit-text-stroke:0.12px #dcdcdc;"><span>3.17</span></div>
<div class="t n c" style="left:649px;top:281px;width:53px;height:19px;justify-content:center;align-items:center;text-align:center;letter-spacing:-0.64px;-webkit-text-stroke:0.12px #dcdcdc;"><span>4.9</span></div>
<div class="t n c" style="left:703px;top:281px;width:97px;height:19px;justify-content:center;align-items:center;text-align:center;letter-spacing:-0.55px;-webkit-text-stroke:0.12px #dcdcdc;"><span>360</span></div>
<div class="t n c" style="left:801px;top:281px;width:87px;height:19px;justify-content:center;align-items:center;text-align:center;letter-spacing:-0.55px;-webkit-text-stroke:0.12px #dcdcdc;"><span>45</span></div>
<div class="t pn" style="left:110.88px;top:301px;width:168.0px;height:19px;justify-content:flex-start;align-items:center;text-align:left;letter-spacing:0.837px;-webkit-text-stroke:0.12px #dcdcdc;"><span>ML-2452-APAG2A1-01</span></div>
<div class="t r" style="left:283.08px;top:301px;width:116.0px;height:19px;justify-content:flex-start;align-items:center;text-align:left;letter-spacing:0.385px;-webkit-text-stroke:0.12px #dcdcdc;"><span>RP SMA male</span></div>
<div class="t n c" style="left:509px;top:301px;width:69px;height:19px;justify-content:center;align-items:center;text-align:center;letter-spacing:-0.64px;-webkit-text-stroke:0.12px #dcdcdc;"><span>2.7</span></div>
<div class="t n c" style="left:579px;top:301px;width:69px;height:19px;justify-content:center;align-items:center;text-align:center;letter-spacing:-0.55px;-webkit-text-stroke:0.12px #dcdcdc;"><span>2</span></div>
<div class="t n c" style="left:649px;top:301px;width:53px;height:19px;justify-content:center;align-items:center;text-align:center;letter-spacing:-0.55px;-webkit-text-stroke:0.12px #dcdcdc;"><span>2</span></div>
<div class="t n c" style="left:703px;top:301px;width:97px;height:19px;justify-content:center;align-items:center;text-align:center;letter-spacing:-0.55px;-webkit-text-stroke:0.12px #dcdcdc;"><span>360</span></div>
<div class="t n c" style="left:801px;top:301px;width:87px;height:19px;justify-content:center;align-items:center;text-align:center;letter-spacing:-0.55px;-webkit-text-stroke:0.12px #dcdcdc;"><span>60</span></div>
<div class="t pn" style="left:110.88px;top:321px;width:168.0px;height:19px;justify-content:flex-start;align-items:center;text-align:left;letter-spacing:1.109px;-webkit-text-stroke:0.12px #dcdcdc;"><span>ML-2452-APAG2A1-02</span></div>
<div class="t r" style="left:283.08px;top:321px;width:116.0px;height:19px;justify-content:flex-start;align-items:center;text-align:left;letter-spacing:0.385px;-webkit-text-stroke:0.12px #dcdcdc;"><span>RP SMA male</span></div>
<div class="t n c" style="left:509px;top:321px;width:69px;height:19px;justify-content:center;align-items:center;text-align:center;letter-spacing:-0.64px;-webkit-text-stroke:0.12px #dcdcdc;"><span>2.7</span></div>
<div class="t n c" style="left:579px;top:321px;width:69px;height:19px;justify-content:center;align-items:center;text-align:center;letter-spacing:-0.55px;-webkit-text-stroke:0.12px #dcdcdc;"><span>2</span></div>
<div class="t n c" style="left:649px;top:321px;width:53px;height:19px;justify-content:center;align-items:center;text-align:center;letter-spacing:-0.55px;-webkit-text-stroke:0.12px #dcdcdc;"><span>2</span></div>
<div class="t n c" style="left:703px;top:321px;width:97px;height:19px;justify-content:center;align-items:center;text-align:center;letter-spacing:-0.55px;-webkit-text-stroke:0.12px #dcdcdc;"><span>360</span></div>
<div class="t n c" style="left:801px;top:321px;width:87px;height:19px;justify-content:center;align-items:center;text-align:center;letter-spacing:-0.55px;-webkit-text-stroke:0.12px #dcdcdc;"><span>60</span></div>
<div class="t pn" style="left:110.88px;top:341px;width:168.0px;height:19px;justify-content:flex-start;align-items:center;text-align:left;letter-spacing:1.412px;-webkit-text-stroke:0.12px #bdaad0;"><span>ML-2452-HPA5-036</span></div>
<div class="t r" style="left:283.08px;top:341px;width:116.0px;height:19px;justify-content:flex-start;align-items:center;text-align:left;letter-spacing:0.385px;-webkit-text-stroke:0.12px #dcdcdc;"><span>RP SMA male</span></div>
<div class="t n c" style="left:402px;top:341px;width:106px;height:19px;justify-content:center;align-items:center;text-align:center;letter-spacing:-0.55px;-webkit-text-stroke:0.12px #dcdcdc;"><span>5</span></div>
<div class="t n c" style="left:509px;top:341px;width:69px;height:19px;justify-content:center;align-items:center;text-align:center;letter-spacing:-0.55px;-webkit-text-stroke:0.12px #dcdcdc;"><span>3</span></div>
<div class="t n c" style="left:649px;top:341px;width:53px;height:19px;justify-content:center;align-items:center;text-align:center;letter-spacing:-0.55px;-webkit-text-stroke:0.12px #dcdcdc;"><span>5</span></div>
<div class="t n c" style="left:703px;top:341px;width:97px;height:19px;justify-content:center;align-items:center;text-align:center;letter-spacing:-0.55px;-webkit-text-stroke:0.12px #dcdcdc;"><span>360</span></div>
<div class="t n c" style="left:801px;top:341px;width:87px;height:19px;justify-content:center;align-items:center;text-align:center;letter-spacing:-0.55px;-webkit-text-stroke:0.12px #dcdcdc;"><span>50</span></div>
<div class="t r c" style="left:889px;top:341px;width:85px;height:19px;justify-content:center;align-items:center;text-align:center;-webkit-text-stroke:0.12px #dcdcdc;"><span>Y</span></div>
<div class="t pn" style="left:110.88px;top:361px;width:168.0px;height:19px;justify-content:flex-start;align-items:center;text-align:left;letter-spacing:1.056px;-webkit-text-stroke:0.12px #bdaad0;"><span>ML-2452-HPA6-01</span></div>
<div class="t r" style="left:283.08px;top:361px;width:116.0px;height:19px;justify-content:flex-start;align-items:center;text-align:left;letter-spacing:0.557px;-webkit-text-stroke:0.12px #dcdcdc;"><span>N male</span></div>
<div class="t r star c" style="left:402px;top:361px;width:106px;height:19px;justify-content:center;align-items:center;text-align:center;-webkit-text-stroke:0.12px #dcdcdc;"><span>*</span></div>
<div class="t n c" style="left:509px;top:361px;width:69px;height:19px;justify-content:center;align-items:center;text-align:center;letter-spacing:-0.64px;-webkit-text-stroke:0.12px #dcdcdc;"><span>5.3</span></div>
<div class="t n c" style="left:579px;top:361px;width:69px;height:19px;justify-content:center;align-items:center;text-align:center;letter-spacing:-0.64px;-webkit-text-stroke:0.12px #dcdcdc;"><span>4.6</span></div>
<div class="t n c" style="left:649px;top:361px;width:53px;height:19px;justify-content:center;align-items:center;text-align:center;letter-spacing:-1.84px;-webkit-text-stroke:0.12px #dcdcdc;"><span>6.1</span></div>
<div class="t n c" style="left:703px;top:361px;width:97px;height:19px;justify-content:center;align-items:center;text-align:center;letter-spacing:-0.55px;-webkit-text-stroke:0.12px #dcdcdc;"><span>360</span></div>
<div class="t n c" style="left:801px;top:361px;width:87px;height:19px;justify-content:center;align-items:center;text-align:center;letter-spacing:-0.55px;-webkit-text-stroke:0.12px #dcdcdc;"><span>30</span></div>
<div class="t r c" style="left:889px;top:361px;width:85px;height:19px;justify-content:center;align-items:center;text-align:center;-webkit-text-stroke:0.12px #dcdcdc;"><span>Y</span></div>
<div class="t pn" style="left:110.88px;top:381px;width:168.0px;height:19px;justify-content:flex-start;align-items:center;text-align:left;letter-spacing:1.291px;-webkit-text-stroke:0.12px #bdaad0;"><span>ML-2452-HPA6M6-072</span></div>
<div class="t r" style="left:283.08px;top:381px;width:116.0px;height:19px;justify-content:flex-start;align-items:center;text-align:left;letter-spacing:0.385px;-webkit-text-stroke:0.12px #dcdcdc;"><span>RP SMA male</span></div>
<div class="t n c" style="left:402px;top:381px;width:106px;height:19px;justify-content:center;align-items:center;text-align:center;letter-spacing:-0.55px;-webkit-text-stroke:0.12px #dcdcdc;"><span>5</span></div>
<div class="t n c" style="left:509px;top:381px;width:69px;height:19px;justify-content:center;align-items:center;text-align:center;letter-spacing:-0.64px;-webkit-text-stroke:0.12px #dcdcdc;"><span>2.8</span></div>
<div class="t n c" style="left:649px;top:381px;width:53px;height:19px;justify-content:center;align-items:center;text-align:center;letter-spacing:-0.64px;-webkit-text-stroke:0.12px #dcdcdc;"><span>6.5</span></div>
<div class="t n c" style="left:703px;top:381px;width:97px;height:19px;justify-content:center;align-items:center;text-align:center;letter-spacing:-0.55px;-webkit-text-stroke:0.12px #dcdcdc;"><span>360</span></div>
<div class="t n c" style="left:801px;top:381px;width:87px;height:19px;justify-content:center;align-items:center;text-align:center;letter-spacing:-0.55px;-webkit-text-stroke:0.12px #dcdcdc;"><span>66</span></div>
<div class="t r c" style="left:889px;top:381px;width:85px;height:19px;justify-content:center;align-items:center;text-align:center;-webkit-text-stroke:0.12px #dcdcdc;"><span>Y</span></div>
<div class="t pn" style="left:110.88px;top:401px;width:168.0px;height:19px;justify-content:flex-start;align-items:center;text-align:left;letter-spacing:1.340px;-webkit-text-stroke:0.12px #bdaad0;"><span>ML-2452-HPA6X6-036</span></div>
<div class="t r" style="left:283.08px;top:401px;width:116.0px;height:19px;justify-content:flex-start;align-items:center;text-align:left;letter-spacing:0.918px;-webkit-text-stroke:0.12px #dcdcdc;"><span>N male (6)</span></div>
<div class="t n c" style="left:402px;top:401px;width:106px;height:19px;justify-content:center;align-items:center;text-align:center;letter-spacing:-0.55px;-webkit-text-stroke:0.12px #dcdcdc;"><span>7</span></div>
<div class="t n c" style="left:509px;top:401px;width:69px;height:19px;justify-content:center;align-items:center;text-align:center;letter-spacing:-0.55px;-webkit-text-stroke:0.12px #dcdcdc;"><span>4</span></div>
<div class="t n c" style="left:579px;top:401px;width:69px;height:19px;justify-content:center;align-items:center;text-align:center;letter-spacing:-0.55px;-webkit-text-stroke:0.12px #dcdcdc;"><span>6</span></div>
<div class="t n c" style="left:649px;top:401px;width:53px;height:19px;justify-content:center;align-items:center;text-align:center;letter-spacing:-0.55px;-webkit-text-stroke:0.12px #dcdcdc;"><span>6</span></div>
<div class="t n c" style="left:703px;top:401px;width:97px;height:19px;justify-content:center;align-items:center;text-align:center;letter-spacing:-0.55px;-webkit-text-stroke:0.12px #dcdcdc;"><span>360</span></div>
<div class="t n c" style="left:801px;top:401px;width:87px;height:19px;justify-content:center;align-items:center;text-align:center;letter-spacing:-0.55px;-webkit-text-stroke:0.12px #dcdcdc;"><span>45</span></div>
<div class="t r c" style="left:889px;top:401px;width:85px;height:19px;justify-content:center;align-items:center;text-align:center;-webkit-text-stroke:0.12px #dcdcdc;"><span>Y</span></div>
<div class="t pn" style="left:110.88px;top:421px;width:168.0px;height:19px;justify-content:flex-start;align-items:center;text-align:left;letter-spacing:1.057px;-webkit-text-stroke:0.12px #bdaad0;"><span>ML-2452-HPAG4A6-01</span></div>
<div class="t r" style="left:283.08px;top:421px;width:116.0px;height:19px;justify-content:flex-start;align-items:center;text-align:left;letter-spacing:0.557px;-webkit-text-stroke:0.12px #dcdcdc;"><span>N male</span></div>
<div class="t r star c" style="left:402px;top:421px;width:106px;height:19px;justify-content:center;align-items:center;text-align:center;-webkit-text-stroke:0.12px #dcdcdc;"><span>*</span></div>
<div class="t n c" style="left:509px;top:421px;width:69px;height:19px;justify-content:center;align-items:center;text-align:center;letter-spacing:-0.55px;-webkit-text-stroke:0.12px #dcdcdc;"><span>4</span></div>
<div class="t n c" style="left:649px;top:421px;width:53px;height:19px;justify-content:center;align-items:center;text-align:center;letter-spacing:-0.64px;-webkit-text-stroke:0.12px #dcdcdc;"><span>7.3</span></div>
<div class="t n c" style="left:703px;top:421px;width:97px;height:19px;justify-content:center;align-items:center;text-align:center;letter-spacing:-0.55px;-webkit-text-stroke:0.12px #dcdcdc;"><span>360</span></div>
<div class="t n c" style="left:801px;top:421px;width:87px;height:19px;justify-content:center;align-items:center;text-align:center;letter-spacing:-2.35px;-webkit-text-stroke:0.12px #dcdcdc;"><span>18</span></div>
<div class="t r c" style="left:889px;top:421px;width:85px;height:19px;justify-content:center;align-items:center;text-align:center;-webkit-text-stroke:0.12px #dcdcdc;"><span>Y</span></div>
<div class="t pn" style="left:110.88px;top:441px;width:168.0px;height:19px;justify-content:flex-start;align-items:center;text-align:left;letter-spacing:1.057px;-webkit-text-stroke:0.12px #bdaad0;"><span>ML-2452-HPAG5A8-01</span></div>
<div class="t r" style="left:283.08px;top:441px;width:116.0px;height:19px;justify-content:flex-start;align-items:center;text-align:left;letter-spacing:0.557px;-webkit-text-stroke:0.12px #dcdcdc;"><span>N male</span></div>
<div class="t r star c" style="left:402px;top:441px;width:106px;height:19px;justify-content:center;align-items:center;text-align:center;-webkit-text-stroke:0.12px #dcdcdc;"><span>*</span></div>
<div class="t n c" style="left:509px;top:441px;width:69px;height:19px;justify-content:center;align-items:center;text-align:center;letter-spacing:-0.55px;-webkit-text-stroke:0.12px #dcdcdc;"><span>5</span></div>
<div class="t n c" style="left:649px;top:441px;width:53px;height:19px;justify-content:center;align-items:center;text-align:center;letter-spacing:-0.55px;-webkit-text-stroke:0.12px #dcdcdc;"><span>8</span></div>
<div class="t n c" style="left:703px;top:441px;width:97px;height:19px;justify-content:center;align-items:center;text-align:center;letter-spacing:-0.55px;-webkit-text-stroke:0.12px #dcdcdc;"><span>360</span></div>
<div class="t n c" style="left:801px;top:441px;width:87px;height:19px;justify-content:center;align-items:center;text-align:center;letter-spacing:-0.55px;-webkit-text-stroke:0.12px #dcdcdc;"><span>28</span></div>
<div class="t r c" style="left:889px;top:441px;width:85px;height:19px;justify-content:center;align-items:center;text-align:center;-webkit-text-stroke:0.12px #dcdcdc;"><span>Y</span></div>
<div class="t pn" style="left:110.88px;top:461px;width:168.0px;height:19px;justify-content:flex-start;align-items:center;text-align:left;letter-spacing:1.243px;-webkit-text-stroke:0.12px #bdaad0;"><span>ML-2452-VMM3M3-036</span></div>
<div class="t r" style="left:283.08px;top:461px;width:116.0px;height:19px;justify-content:flex-start;align-items:center;text-align:left;letter-spacing:0.666px;-webkit-text-stroke:0.12px #dcdcdc;"><span>RP SMA male (3)</span></div>
<div class="t n c" style="left:402px;top:461px;width:106px;height:19px;justify-content:center;align-items:center;text-align:center;letter-spacing:-0.55px;-webkit-text-stroke:0.12px #dcdcdc;"><span>5</span></div>
<div class="t n c" style="left:509px;top:461px;width:69px;height:19px;justify-content:center;align-items:center;text-align:center;letter-spacing:-0.64px;-webkit-text-stroke:0.12px #dcdcdc;"><span>4.5</span></div>
<div class="t n c" style="left:579px;top:461px;width:69px;height:19px;justify-content:center;align-items:center;text-align:center;letter-spacing:-0.64px;-webkit-text-stroke:0.12px #dcdcdc;"><span>5.4</span></div>
<div class="t n c" style="left:649px;top:461px;width:53px;height:19px;justify-content:center;align-items:center;text-align:center;letter-spacing:-0.64px;-webkit-text-stroke:0.12px #dcdcdc;"><span>5.4</span></div>
<div class="t n c" style="left:703px;top:461px;width:97px;height:19px;justify-content:center;align-items:center;text-align:center;letter-spacing:-0.55px;-webkit-text-stroke:0.12px #dcdcdc;"><span>360</span></div>
<div class="t n c" style="left:801px;top:461px;width:87px;height:19px;justify-content:center;align-items:center;text-align:center;letter-spacing:-0.55px;-webkit-text-stroke:0.12px #dcdcdc;"><span>40</span></div>
<div class="t r c" style="left:889px;top:461px;width:85px;height:19px;justify-content:center;align-items:center;text-align:center;-webkit-text-stroke:0.12px #dcdcdc;"><span>Y</span></div>
<div class="t pn" style="left:110.88px;top:481px;width:168.0px;height:19px;justify-content:flex-start;align-items:center;text-align:left;letter-spacing:1.131px;-webkit-text-stroke:0.12px #bdaad0;"><span>ML-2452-VMM5M3-N72</span></div>
<div class="t r" style="left:283.08px;top:481px;width:116.0px;height:19px;justify-content:flex-start;align-items:center;text-align:left;letter-spacing:0.918px;-webkit-text-stroke:0.12px #dcdcdc;"><span>N male (3)</span></div>
<div class="t r star c" style="left:402px;top:481px;width:106px;height:19px;justify-content:center;align-items:center;text-align:center;-webkit-text-stroke:0.12px #dcdcdc;"><span>*</span></div>
<div class="t n c" style="left:509px;top:481px;width:69px;height:19px;justify-content:center;align-items:center;text-align:center;letter-spacing:-0.64px;-webkit-text-stroke:0.12px #dcdcdc;"><span>4.5</span></div>
<div class="t n c" style="left:579px;top:481px;width:69px;height:19px;justify-content:center;align-items:center;text-align:center;letter-spacing:-0.64px;-webkit-text-stroke:0.12px #dcdcdc;"><span>5.4</span></div>
<div class="t n c" style="left:649px;top:481px;width:53px;height:19px;justify-content:center;align-items:center;text-align:center;letter-spacing:-0.64px;-webkit-text-stroke:0.12px #dcdcdc;"><span>5.4</span></div>
<div class="t n c" style="left:703px;top:481px;width:97px;height:19px;justify-content:center;align-items:center;text-align:center;letter-spacing:-0.55px;-webkit-text-stroke:0.12px #dcdcdc;"><span>360</span></div>
<div class="t n c" style="left:801px;top:481px;width:87px;height:19px;justify-content:center;align-items:center;text-align:center;letter-spacing:-0.55px;-webkit-text-stroke:0.12px #dcdcdc;"><span>40</span></div>
<div class="t r c" style="left:889px;top:481px;width:85px;height:19px;justify-content:center;align-items:center;text-align:center;-webkit-text-stroke:0.12px #dcdcdc;"><span>Y</span></div>
<div class="t pn" style="left:110.88px;top:501px;width:168.0px;height:19px;justify-content:flex-start;align-items:center;text-align:left;letter-spacing:0.914px;-webkit-text-stroke:0.12px #bdaad0;"><span>ML-2452-PNA5-01R</span></div>
<div class="t r" style="left:283.08px;top:501px;width:116.0px;height:19px;justify-content:flex-start;align-items:center;text-align:left;letter-spacing:0.557px;-webkit-text-stroke:0.12px #ffffff;"><span>N male</span></div>
<div class="t r star c" style="left:402px;top:501px;width:106px;height:19px;justify-content:center;align-items:center;text-align:center;-webkit-text-stroke:0.12px #ffffff;"><span>*</span></div>
<div class="t n c" style="left:509px;top:501px;width:69px;height:19px;justify-content:center;align-items:center;text-align:center;letter-spacing:-0.64px;-webkit-text-stroke:0.12px #ffffff;"><span>5.5</span></div>
<div class="t n c" style="left:579px;top:501px;width:69px;height:19px;justify-content:center;align-items:center;text-align:center;letter-spacing:-0.55px;-webkit-text-stroke:0.12px #ffffff;"><span>6</span></div>
<div class="t n c" style="left:649px;top:501px;width:53px;height:19px;justify-content:center;align-items:center;text-align:center;letter-spacing:-0.55px;-webkit-text-stroke:0.12px #ffffff;"><span>6</span></div>
<div class="t n c" style="left:703px;top:501px;width:97px;height:19px;justify-content:center;align-items:center;text-align:center;letter-spacing:-1.75px;-webkit-text-stroke:0.12px #ffffff;"><span>120</span></div>
<div class="t n c" style="left:801px;top:501px;width:87px;height:19px;justify-content:center;align-items:center;text-align:center;letter-spacing:-0.55px;-webkit-text-stroke:0.12px #ffffff;"><span>60</span></div>
<div class="t r c" style="left:889px;top:501px;width:85px;height:19px;justify-content:center;align-items:center;text-align:center;-webkit-text-stroke:0.12px #ffffff;"><span>Y</span></div>
<div class="t pn" style="left:110.88px;top:521px;width:168.0px;height:19px;justify-content:flex-start;align-items:center;text-align:left;letter-spacing:0.914px;-webkit-text-stroke:0.12px #bdaad0;"><span>ML-2452-PNA7-01R</span></div>
<div class="t r" style="left:283.08px;top:521px;width:116.0px;height:19px;justify-content:flex-start;align-items:center;text-align:left;letter-spacing:0.557px;-webkit-text-stroke:0.12px #ffffff;"><span>N male</span></div>
<div class="t r star c" style="left:402px;top:521px;width:106px;height:19px;justify-content:center;align-items:center;text-align:center;-webkit-text-stroke:0.12px #ffffff;"><span>*</span></div>
<div class="t n c" style="left:509px;top:521px;width:69px;height:19px;justify-content:center;align-items:center;text-align:center;letter-spacing:-0.55px;-webkit-text-stroke:0.12px #ffffff;"><span>8</span></div>
<div class="t n c" style="left:579px;top:521px;width:69px;height:19px;justify-content:center;align-items:center;text-align:center;letter-spacing:-2.35px;-webkit-text-stroke:0.12px #ffffff;"><span>12</span></div>
<div class="t n c" style="left:649px;top:521px;width:53px;height:19px;justify-content:center;align-items:center;text-align:center;letter-spacing:-2.35px;-webkit-text-stroke:0.12px #ffffff;"><span>12</span></div>
<div class="t n c" style="left:703px;top:521px;width:97px;height:19px;justify-content:center;align-items:center;text-align:center;letter-spacing:-0.55px;-webkit-text-stroke:0.12px #ffffff;"><span>68</span></div>
<div class="t n c" style="left:801px;top:521px;width:87px;height:19px;justify-content:center;align-items:center;text-align:center;letter-spacing:-0.55px;-webkit-text-stroke:0.12px #ffffff;"><span>66</span></div>
<div class="t r c" style="left:889px;top:521px;width:85px;height:19px;justify-content:center;align-items:center;text-align:center;-webkit-text-stroke:0.12px #ffffff;"><span>Y</span></div>
<div class="t pn" style="left:110.88px;top:541px;width:168.0px;height:19px;justify-content:flex-start;align-items:center;text-align:left;letter-spacing:1.292px;-webkit-text-stroke:0.12px #dcdcdc;"><span>ML-2452-PTA6M6-036</span></div>
<div class="t r" style="left:283.08px;top:541px;width:116.0px;height:19px;justify-content:flex-start;align-items:center;text-align:left;letter-spacing:0.667px;-webkit-text-stroke:0.12px #ffffff;"><span>RP SMA male (6)</span></div>
<div class="t n c" style="left:509px;top:541px;width:69px;height:19px;justify-content:center;align-items:center;text-align:center;letter-spacing:-0.55px;-webkit-text-stroke:0.12px #ffffff;"><span>5</span></div>
<div class="t n c" style="left:579px;top:541px;width:69px;height:19px;justify-content:center;align-items:center;text-align:center;letter-spacing:-0.55px;-webkit-text-stroke:0.12px #ffffff;"><span>6</span></div>
<div class="t n c" style="left:649px;top:541px;width:53px;height:19px;justify-content:center;align-items:center;text-align:center;letter-spacing:-0.55px;-webkit-text-stroke:0.12px #ffffff;"><span>6</span></div>
<div class="t n c" style="left:703px;top:541px;width:97px;height:19px;justify-content:center;align-items:center;text-align:center;letter-spacing:-0.55px;-webkit-text-stroke:0.12px #ffffff;"><span>360</span></div>
<div class="t n c" style="left:801px;top:541px;width:87px;height:19px;justify-content:center;align-items:center;text-align:center;letter-spacing:-0.55px;-webkit-text-stroke:0.12px #ffffff;"><span>55</span></div>
<div class="t pn" style="left:110.88px;top:561px;width:168.0px;height:19px;justify-content:flex-start;align-items:center;text-align:left;letter-spacing:1.292px;-webkit-text-stroke:0.12px #dcdcdc;"><span>ML-2452-PTA4M4-036</span></div>
<div class="t r" style="left:283.08px;top:561px;width:116.0px;height:19px;justify-content:flex-start;align-items:center;text-align:left;letter-spacing:0.666px;-webkit-text-stroke:0.12px #dcdcdc;"><span>RP SMA male (4)</span></div>
<div class="t n c" style="left:509px;top:561px;width:69px;height:19px;justify-content:center;align-items:center;text-align:center;letter-spacing:-0.64px;-webkit-text-stroke:0.12px #dcdcdc;"><span>5.5</span></div>
<div class="t n c" style="left:579px;top:561px;width:69px;height:19px;justify-content:center;align-items:center;text-align:center;letter-spacing:-0.55px;-webkit-text-stroke:0.12px #dcdcdc;"><span>6</span></div>
<div class="t n c" style="left:649px;top:561px;width:53px;height:19px;justify-content:center;align-items:center;text-align:center;letter-spacing:-0.55px;-webkit-text-stroke:0.12px #dcdcdc;"><span>5</span></div>
<div class="t n c" style="left:703px;top:561px;width:97px;height:19px;justify-content:center;align-items:center;text-align:center;letter-spacing:-0.55px;-webkit-text-stroke:0.12px #dcdcdc;"><span>360</span></div>
<div class="t n c" style="left:801px;top:561px;width:87px;height:19px;justify-content:center;align-items:center;text-align:center;letter-spacing:-0.55px;-webkit-text-stroke:0.12px #dcdcdc;"><span>70</span></div>
<div class="t pn" style="left:110.88px;top:581px;width:168.0px;height:19px;justify-content:flex-start;align-items:center;text-align:left;letter-spacing:1.292px;-webkit-text-stroke:0.12px #dcdcdc;"><span>ML-2452-PTA2M2-036</span></div>
<div class="t r" style="left:283.08px;top:581px;width:116.0px;height:19px;justify-content:flex-start;align-items:center;text-align:left;letter-spacing:0.666px;-webkit-text-stroke:0.12px #dcdcdc;"><span>RP SMA male (2)</span></div>
<div class="t n c" style="left:509px;top:581px;width:69px;height:19px;justify-content:center;align-items:center;text-align:center;letter-spacing:-0.55px;-webkit-text-stroke:0.12px #dcdcdc;"><span>4</span></div>
<div class="t n c" style="left:579px;top:581px;width:69px;height:19px;justify-content:center;align-items:center;text-align:center;letter-spacing:-0.55px;-webkit-text-stroke:0.12px #dcdcdc;"><span>5</span></div>
<div class="t n c" style="left:648.99px;top:581px;width:53.0px;height:19px;justify-content:center;align-items:center;text-align:center;letter-spacing:1.256px;-webkit-text-stroke:0.12px #dcdcdc;"><span>n/a</span></div>
<div class="t n c" style="left:703px;top:581px;width:97px;height:19px;justify-content:center;align-items:center;text-align:center;letter-spacing:-0.55px;-webkit-text-stroke:0.12px #dcdcdc;"><span>360</span></div>
<div class="t n c" style="left:801px;top:581px;width:87px;height:19px;justify-content:center;align-items:center;text-align:center;letter-spacing:-0.55px;-webkit-text-stroke:0.12px #dcdcdc;"><span>60</span></div>
<div class="t pn" style="left:110.88px;top:601px;width:168.0px;height:19px;justify-content:flex-start;align-items:center;text-align:left;letter-spacing:1.292px;-webkit-text-stroke:0.12px #dcdcdc;"><span>ML-2452-PTA3M3-036</span></div>
<div class="t r" style="left:283.08px;top:601px;width:116.0px;height:19px;justify-content:flex-start;align-items:center;text-align:left;letter-spacing:0.666px;-webkit-text-stroke:0.12px #dcdcdc;"><span>RP SMA male (3)</span></div>
<div class="t n c" style="left:509px;top:601px;width:69px;height:19px;justify-content:center;align-items:center;text-align:center;letter-spacing:-0.55px;-webkit-text-stroke:0.12px #dcdcdc;"><span>5</span></div>
<div class="t n c" style="left:579px;top:601px;width:69px;height:19px;justify-content:center;align-items:center;text-align:center;letter-spacing:-0.55px;-webkit-text-stroke:0.12px #dcdcdc;"><span>4</span></div>
<div class="t n c" style="left:649px;top:601px;width:53px;height:19px;justify-content:center;align-items:center;text-align:center;letter-spacing:-0.55px;-webkit-text-stroke:0.12px #dcdcdc;"><span>4</span></div>
<div class="t n c" style="left:703px;top:601px;width:97px;height:19px;justify-content:center;align-items:center;text-align:center;letter-spacing:-0.55px;-webkit-text-stroke:0.12px #dcdcdc;"><span>360</span></div>
<div class="t n c" style="left:801px;top:601px;width:87px;height:19px;justify-content:center;align-items:center;text-align:center;letter-spacing:-0.55px;-webkit-text-stroke:0.12px #dcdcdc;"><span>60</span></div>
<div class="t pn" style="left:110.88px;top:621px;width:168.0px;height:19px;justify-content:flex-start;align-items:center;text-align:left;letter-spacing:1.306px;-webkit-text-stroke:0.12px #dcdcdc;"><span>ML-2452-PTA6X6-036</span></div>
<div class="t r" style="left:283.08px;top:621px;width:116.0px;height:19px;justify-content:flex-start;align-items:center;text-align:left;letter-spacing:0.667px;-webkit-text-stroke:0.12px #dcdcdc;"><span>RP SMA male (6)</span></div>
<div class="t n c" style="left:509px;top:621px;width:69px;height:19px;justify-content:center;align-items:center;text-align:center;letter-spacing:-0.55px;-webkit-text-stroke:0.12px #dcdcdc;"><span>3</span></div>
<div class="t n c" style="left:649px;top:621px;width:53px;height:19px;justify-content:center;align-items:center;text-align:center;letter-spacing:-0.55px;-webkit-text-stroke:0.12px #dcdcdc;"><span>5</span></div>
<div class="t n c" style="left:703px;top:621px;width:97px;height:19px;justify-content:center;align-items:center;text-align:center;letter-spacing:-0.55px;-webkit-text-stroke:0.12px #dcdcdc;"><span>360</span></div>
<div class="t n c" style="left:801px;top:621px;width:87px;height:19px;justify-content:center;align-items:center;text-align:center;letter-spacing:-0.55px;-webkit-text-stroke:0.12px #dcdcdc;"><span>75</span></div>
<div class="t pn" style="left:110.88px;top:641px;width:168.0px;height:19px;justify-content:flex-start;align-items:center;text-align:left;letter-spacing:0.998px;-webkit-text-stroke:0.12px #bdaad0;"><span>ML-2452-SEC6M4-036</span></div>
<div class="t r" style="left:283.08px;top:641px;width:116.0px;height:19px;justify-content:flex-start;align-items:center;text-align:left;letter-spacing:0.666px;-webkit-text-stroke:0.12px #ffffff;"><span>RP SMA male (4)</span></div>
<div class="t n c" style="left:402px;top:641px;width:106px;height:19px;justify-content:center;align-items:center;text-align:center;letter-spacing:-0.55px;-webkit-text-stroke:0.12px #ffffff;"><span>5</span></div>
<div class="t n c" style="left:509px;top:641px;width:69px;height:19px;justify-content:center;align-items:center;text-align:center;letter-spacing:-0.62px;-webkit-text-stroke:0.12px #ffffff;"><span>6.92</span></div>
<div class="t n c" style="left:579px;top:641px;width:69px;height:19px;justify-content:center;align-items:center;text-align:center;letter-spacing:-0.62px;-webkit-text-stroke:0.12px #ffffff;"><span>7.23</span></div>
<div class="t n c" style="left:649px;top:641px;width:53px;height:19px;justify-content:center;align-items:center;text-align:center;letter-spacing:-0.62px;-webkit-text-stroke:0.12px #ffffff;"><span>3.95</span></div>
<div class="t n c" style="left:703px;top:641px;width:97px;height:19px;justify-content:center;align-items:center;text-align:center;letter-spacing:-1.75px;-webkit-text-stroke:0.12px #ffffff;"><span>100</span></div>
<div class="t n c" style="left:801px;top:641px;width:87px;height:19px;justify-content:center;align-items:center;text-align:center;letter-spacing:-0.55px;-webkit-text-stroke:0.12px #ffffff;"><span>90</span></div>
<div class="t r c" style="left:889px;top:641px;width:85px;height:19px;justify-content:center;align-items:center;text-align:center;-webkit-text-stroke:0.12px #ffffff;"><span>Y</span></div>
<div class="t pn" style="left:110.88px;top:661px;width:168.0px;height:19px;justify-content:flex-start;align-items:center;text-align:left;letter-spacing:0.825px;-webkit-text-stroke:0.12px #bdaad0;"><span>ML-2452-PNL3M3-1</span></div>
<div class="t r" style="left:283.08px;top:661px;width:116.0px;height:19px;justify-content:flex-start;align-items:center;text-align:left;letter-spacing:0.918px;-webkit-text-stroke:0.12px #ffffff;"><span>N male (3)</span></div>
<div class="t r star c" style="left:402px;top:661px;width:106px;height:19px;justify-content:center;align-items:center;text-align:center;-webkit-text-stroke:0.12px #ffffff;"><span>*</span></div>
<div class="t n c" style="left:509px;top:661px;width:69px;height:19px;justify-content:center;align-items:center;text-align:center;letter-spacing:-0.64px;-webkit-text-stroke:0.12px #ffffff;"><span>9.7</span></div>
<div class="t n c" style="left:579px;top:661px;width:69px;height:19px;justify-content:center;align-items:center;text-align:center;letter-spacing:-0.64px;-webkit-text-stroke:0.12px #ffffff;"><span>9.2</span></div>
<div class="t n c" style="left:649px;top:661px;width:53px;height:19px;justify-content:center;align-items:center;text-align:center;letter-spacing:-0.64px;-webkit-text-stroke:0.12px #ffffff;"><span>9.2</span></div>
<div class="t n c" style="left:703px;top:661px;width:97px;height:19px;justify-content:center;align-items:center;text-align:center;letter-spacing:-0.55px;-webkit-text-stroke:0.12px #ffffff;"><span>90</span></div>
<div class="t n c" style="left:801px;top:661px;width:87px;height:19px;justify-content:center;align-items:center;text-align:center;letter-spacing:-0.55px;-webkit-text-stroke:0.12px #ffffff;"><span>45</span></div>
<div class="t r c" style="left:889px;top:661px;width:85px;height:19px;justify-content:center;align-items:center;text-align:center;-webkit-text-stroke:0.12px #ffffff;"><span>Y</span></div>
<div class="t pn" style="left:110.88px;top:681px;width:168.0px;height:19px;justify-content:flex-start;align-items:center;text-align:left;letter-spacing:1.180px;-webkit-text-stroke:0.12px #bdaad0;"><span>ML-2452-PNL6M3-N36</span></div>
<div class="t r" style="left:283.08px;top:681px;width:116.0px;height:19px;justify-content:flex-start;align-items:center;text-align:left;letter-spacing:0.918px;-webkit-text-stroke:0.12px #ffffff;"><span>N male (3)</span></div>
<div class="t r star c" style="left:402px;top:681px;width:106px;height:19px;justify-content:center;align-items:center;text-align:center;-webkit-text-stroke:0.12px #ffffff;"><span>*</span></div>
<div class="t n c" style="left:509px;top:681px;width:69px;height:19px;justify-content:center;align-items:center;text-align:center;letter-spacing:-0.55px;-webkit-text-stroke:0.12px #ffffff;"><span>6</span></div>
<div class="t n c" style="left:579px;top:681px;width:69px;height:19px;justify-content:center;align-items:center;text-align:center;letter-spacing:-0.55px;-webkit-text-stroke:0.12px #ffffff;"><span>6</span></div>
<div class="t n c" style="left:649px;top:681px;width:53px;height:19px;justify-content:center;align-items:center;text-align:center;letter-spacing:-0.55px;-webkit-text-stroke:0.12px #ffffff;"><span>6</span></div>
<div class="t n c" style="left:703px;top:681px;width:97px;height:19px;justify-content:center;align-items:center;text-align:center;letter-spacing:-2.42px;-webkit-text-stroke:0.12px #ffffff;"><span>110</span></div>
<div class="t n c" style="left:801px;top:681px;width:87px;height:19px;justify-content:center;align-items:center;text-align:center;letter-spacing:-0.55px;-webkit-text-stroke:0.12px #ffffff;"><span>75</span></div>
<div class="t r c" style="left:889px;top:681px;width:85px;height:19px;justify-content:center;align-items:center;text-align:center;-webkit-text-stroke:0.12px #ffffff;"><span>Y</span></div>
<div class="t pn" style="left:110.88px;top:701px;width:168.0px;height:19px;justify-content:flex-start;align-items:center;text-align:left;letter-spacing:1.242px;-webkit-text-stroke:0.12px #bdaad0;"><span>ML-2452-PNL9M3-036</span></div>
<div class="t r" style="left:283.08px;top:701px;width:116.0px;height:19px;justify-content:flex-start;align-items:center;text-align:left;letter-spacing:0.666px;-webkit-text-stroke:0.12px #ffffff;"><span>RP SMA male (3)</span></div>
<div class="t n c" style="left:509px;top:701px;width:69px;height:19px;justify-content:center;align-items:center;text-align:center;letter-spacing:-3.35px;-webkit-text-stroke:0.12px #ffffff;"><span>11</span></div>
<div class="t n c" style="left:579px;top:701px;width:69px;height:19px;justify-content:center;align-items:center;text-align:center;letter-spacing:-1.52px;-webkit-text-stroke:0.12px #ffffff;"><span>10.7</span></div>
<div class="t n c" style="left:649px;top:701px;width:53px;height:19px;justify-content:center;align-items:center;text-align:center;letter-spacing:-1.52px;-webkit-text-stroke:0.12px #ffffff;"><span>10.7</span></div>
<div class="t n c" style="left:703px;top:701px;width:97px;height:19px;justify-content:center;align-items:center;text-align:center;letter-spacing:-0.55px;-webkit-text-stroke:0.12px #ffffff;"><span>55</span></div>
<div class="t n c" style="left:801px;top:701px;width:87px;height:19px;justify-content:center;align-items:center;text-align:center;letter-spacing:-0.55px;-webkit-text-stroke:0.12px #ffffff;"><span>55</span></div>
<div class="t pn" style="left:110.88px;top:721px;width:168.0px;height:19px;justify-content:flex-start;align-items:center;text-align:left;letter-spacing:1.180px;-webkit-text-stroke:0.12px #bdaad0;"><span>ML-2452-PNL9M3-N36</span></div>
<div class="t r" style="left:283.08px;top:721px;width:116.0px;height:19px;justify-content:flex-start;align-items:center;text-align:left;letter-spacing:0.918px;-webkit-text-stroke:0.12px #ffffff;"><span>N male (3)</span></div>
<div class="t n c" style="left:509px;top:721px;width:69px;height:19px;justify-content:center;align-items:center;text-align:center;letter-spacing:-3.35px;-webkit-text-stroke:0.12px #ffffff;"><span>11</span></div>
<div class="t n c" style="left:649px;top:721px;width:53px;height:19px;justify-content:center;align-items:center;text-align:center;letter-spacing:-1.52px;-webkit-text-stroke:0.12px #ffffff;"><span>10.7</span></div>
<div class="t n c" style="left:703px;top:721px;width:97px;height:19px;justify-content:center;align-items:center;text-align:center;letter-spacing:-0.55px;-webkit-text-stroke:0.12px #ffffff;"><span>55</span></div>
<div class="t n c" style="left:801px;top:721px;width:87px;height:19px;justify-content:center;align-items:center;text-align:center;letter-spacing:-0.55px;-webkit-text-stroke:0.12px #ffffff;"><span>55</span></div>
<div class="t pn" style="left:110.88px;top:741px;width:168.0px;height:19px;justify-content:flex-start;align-items:center;text-align:left;letter-spacing:0.930px;-webkit-text-stroke:0.12px #bdaad0;"><span>ML-2452-SEC6M3-N36</span></div>
<div class="t r" style="left:283.08px;top:741px;width:116.0px;height:19px;justify-content:flex-start;align-items:center;text-align:left;letter-spacing:0.918px;-webkit-text-stroke:0.12px #ffffff;"><span>N male (3)</span></div>
<div class="t r star c" style="left:402px;top:741px;width:106px;height:19px;justify-content:center;align-items:center;text-align:center;-webkit-text-stroke:0.12px #ffffff;"><span>*</span></div>
<div class="t n c" style="left:509px;top:741px;width:69px;height:19px;justify-content:center;align-items:center;text-align:center;letter-spacing:-0.64px;-webkit-text-stroke:0.12px #ffffff;"><span>6.5</span></div>
<div class="t n c" style="left:579px;top:741px;width:69px;height:19px;justify-content:center;align-items:center;text-align:center;letter-spacing:-0.55px;-webkit-text-stroke:0.12px #ffffff;"><span>5</span></div>
<div class="t n c" style="left:649px;top:741px;width:53px;height:19px;justify-content:center;align-items:center;text-align:center;letter-spacing:-0.55px;-webkit-text-stroke:0.12px #ffffff;"><span>5</span></div>
<div class="t n c" style="left:703px;top:741px;width:97px;height:19px;justify-content:center;align-items:center;text-align:center;letter-spacing:-0.55px;-webkit-text-stroke:0.12px #ffffff;"><span>90</span></div>
<div class="t n c" style="left:801px;top:741px;width:87px;height:19px;justify-content:center;align-items:center;text-align:center;letter-spacing:-0.55px;-webkit-text-stroke:0.12px #ffffff;"><span>80</span></div>
<div class="t r c" style="left:889px;top:741px;width:85px;height:19px;justify-content:center;align-items:center;text-align:center;-webkit-text-stroke:0.12px #ffffff;"><span>Y</span></div>
<div class="t r" style="left:3.16px;top:781px;width:103.0px;height:19px;justify-content:flex-start;align-items:center;text-align:left;letter-spacing:0.312px;-webkit-text-stroke:0.12px #ffffff;"><span>Note 1:</span></div>
<div class="t r" style="left:110.58px;top:801px;width:289.0px;height:19px;justify-content:flex-start;align-items:center;text-align:left;letter-spacing:1.354px;-webkit-text-stroke:0.12px #ffffff;"><span>N/A or No</span></div>
<div class="t r" style="left:110.86px;top:821px;width:289.0px;height:19px;justify-content:flex-start;align-items:center;text-align:left;letter-spacing:0.735px;-webkit-text-stroke:0.12px #ffffff;"><span>Outdoor rated antenna</span></div>
<div class="t r" style="left:3.16px;top:861px;width:103.0px;height:19px;justify-content:flex-start;align-items:center;text-align:left;letter-spacing:0.901px;-webkit-text-stroke:0.12px #ffffff;"><span>Note 2:</span></div>
<div class="t nb" style="left:4.05px;top:881px;width:103.0px;height:19px;justify-content:flex-start;align-items:center;text-align:left;letter-spacing:-0.261px;"><span>AP to antenna</span></div>
<div class="t nb" style="left:4.05px;top:901px;width:103.0px;height:19px;justify-content:flex-start;align-items:center;text-align:left;letter-spacing:0.147px;"><span>adapter</span></div>
<div class="t nb" style="left:110.5px;top:901px;width:168.0px;height:19px;justify-content:flex-start;align-items:center;text-align:left;letter-spacing:0.053px;"><span>Description</span></div>
<div class="t nb" style="left:284.0px;top:881px;width:116.0px;height:19px;justify-content:flex-start;align-items:center;text-align:left;letter-spacing:0.267px;"><span>Adapter part</span></div>
<div class="t nb" style="left:283.6px;top:901px;width:116.0px;height:19px;justify-content:flex-start;align-items:center;text-align:left;letter-spacing:0.068px;"><span>number</span></div>
<div class="t r" style="left:4px;top:921px;width:103px;height:19px;justify-content:flex-start;align-items:center;text-align:left;-webkit-text-stroke:0.12px #ffffff;"><span>5</span></div>
<div class="t r" style="left:110.5px;top:921px;width:168.0px;height:19px;justify-content:flex-start;align-items:center;text-align:left;letter-spacing:0.525px;-webkit-text-stroke:0.12px #ffffff;"><span>RP SMA to N-male</span></div>
<div class="t r" style="left:283.28px;top:921px;width:116.0px;height:19px;justify-content:flex-start;align-items:center;text-align:left;letter-spacing:0.571px;-webkit-text-stroke:0.12px #ffffff;"><span>25-90263-01R</span></div>
<div class="t r" style="left:4px;top:941px;width:103px;height:19px;justify-content:flex-start;align-items:center;text-align:left;-webkit-text-stroke:0.12px #ffffff;"><span>7</span></div>
<div class="t r" style="left:110.5px;top:941px;width:168.0px;height:19px;justify-content:flex-start;align-items:center;text-align:left;letter-spacing:0.595px;-webkit-text-stroke:0.12px #ffffff;"><span>RP SMA to N-female</span></div>
<div class="t r" style="left:283.28px;top:941px;width:116.0px;height:19px;justify-content:flex-start;align-items:center;text-align:left;letter-spacing:0.423px;-webkit-text-stroke:0.12px #ffffff;"><span>25-85392-01R</span></div>
<div class="t r star" style="left:4px;top:981px;width:103px;height:19px;justify-content:flex-start;align-items:center;text-align:left;-webkit-text-stroke:0.12px #ffffff;"><span>*</span></div>
<div class="t r" style="left:110.94px;top:961px;width:168.0px;height:19px;justify-content:flex-start;align-items:center;text-align:left;letter-spacing:0.460px;-webkit-text-stroke:0.12px #ffffff;"><span>Compatible, no adapter</span></div>
<div class="t r" style="left:110.2px;top:981px;width:168.0px;height:19px;justify-content:flex-start;align-items:center;text-align:left;letter-spacing:1.064px;-webkit-text-stroke:0.12px #ffffff;"><span>needed</span></div>
<div class="t n" style="left:283.25px;top:981px;width:116.0px;height:19px;justify-content:flex-start;align-items:center;text-align:left;letter-spacing:0.744px;-webkit-text-stroke:0.12px #ffffff;"><span>n/a</span></div>
</div>
</body></html>
